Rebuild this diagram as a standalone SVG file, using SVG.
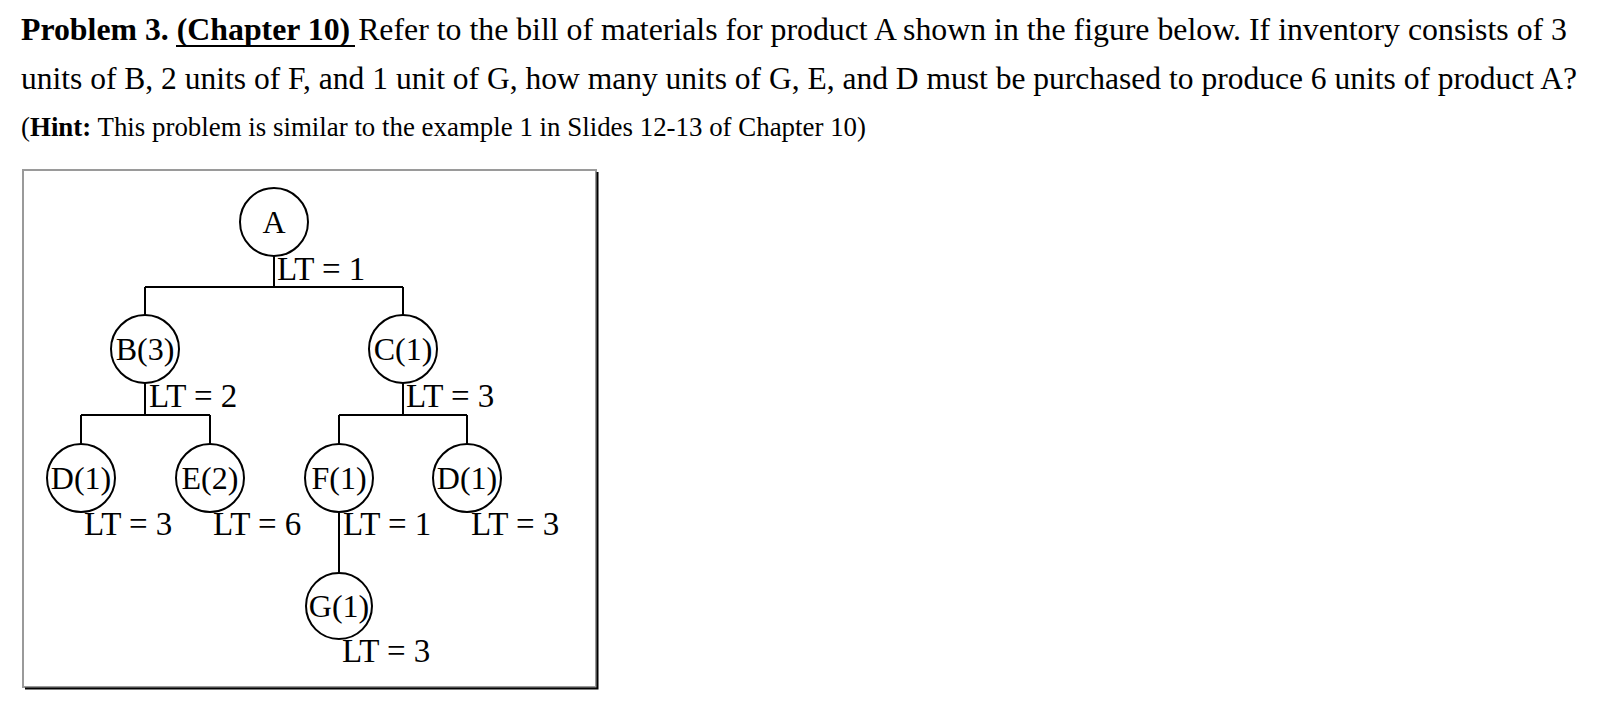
<svg xmlns="http://www.w3.org/2000/svg" width="1606" height="728" viewBox="0 0 1606 728">
<style>
text{font-family:"Liberation Serif","Times New Roman",serif;fill:#000}
.h{font-size:31.5px}
.s{font-size:27.5px}
.b{font-weight:bold}
.lbl{font-size:32px;text-anchor:middle}
.lt{font-size:33px}
.node circle{fill:#fff;stroke:#000;stroke-width:2}
#connectors path{fill:none;stroke:#000;stroke-width:2}
</style>
<rect width="1606" height="728" fill="#fff"/>
<g id="header">
<text class="h" x="21" y="40" textLength="1546" lengthAdjust="spacingAndGlyphs"><tspan class="b">Problem 3. </tspan><tspan class="b">(Chapter 10)</tspan> Refer to the bill of materials for product A shown in the figure below. If inventory consists of 3</text>
<line x1="176" y1="46" x2="355" y2="46" stroke="#000" stroke-width="2"/>
<text class="h" x="21" y="89" textLength="1556" lengthAdjust="spacingAndGlyphs">units of B, 2 units of F, and 1 unit of G, how many units of G, E, and D must be purchased to produce 6 units of product A?</text>
<text class="s" x="21" y="136" textLength="845" lengthAdjust="spacingAndGlyphs">(<tspan class="b">Hint:</tspan> This problem is similar to the example 1 in Slides 12-13 of Chapter 10)</text>
</g>
<g id="frame">
<rect x="23" y="170" width="573" height="517" fill="#fff" stroke="#9a9a9a" stroke-width="2"/>
<path d="M597.5 172 V688.5 H25" fill="none" stroke="#000" stroke-width="2"/>
</g>
<g id="connectors">
<path d="M274 256 V287 M145 287 H403 M145 287 V315 M403 287 V315"/>
<path d="M145 383 V415 M81 415 H210 M81 415 V444 M210 415 V444"/>
<path d="M403 383 V415 M339 415 H467 M339 415 V444 M467 415 V444"/>
<path d="M339 512 V573"/>
</g>
<g id="nodeA" class="node"><circle cx="274" cy="222" r="34"/><text class="lbl" x="274" y="233">A</text></g>
<g id="nodeB" class="node"><circle cx="145" cy="349" r="34"/><text class="lbl" x="145" y="360">B(3)</text></g>
<g id="nodeC" class="node"><circle cx="403" cy="349" r="34"/><text class="lbl" x="403" y="360">C(1)</text></g>
<g id="nodeD1" class="node"><circle cx="81" cy="478" r="34"/><text class="lbl" x="81" y="489">D(1)</text></g>
<g id="nodeE" class="node"><circle cx="210" cy="478" r="34"/><text class="lbl" x="210" y="489">E(2)</text></g>
<g id="nodeF" class="node"><circle cx="339" cy="478" r="34"/><text class="lbl" x="339" y="489">F(1)</text></g>
<g id="nodeD2" class="node"><circle cx="467" cy="478" r="34"/><text class="lbl" x="467" y="489">D(1)</text></g>
<g id="nodeG" class="node"><circle cx="339" cy="606" r="33"/><text class="lbl" x="339" y="617">G(1)</text></g>
<g id="leadtimes">
<text class="lt" x="277" y="280">LT = 1</text>
<text class="lt" x="149" y="407">LT = 2</text>
<text class="lt" x="406" y="407">LT = 3</text>
<text class="lt" x="84" y="535">LT = 3</text>
<text class="lt" x="213" y="535">LT = 6</text>
<text class="lt" x="343" y="535">LT = 1</text>
<text class="lt" x="471" y="535">LT = 3</text>
<text class="lt" x="342" y="662">LT = 3</text>
</g>
</svg>
